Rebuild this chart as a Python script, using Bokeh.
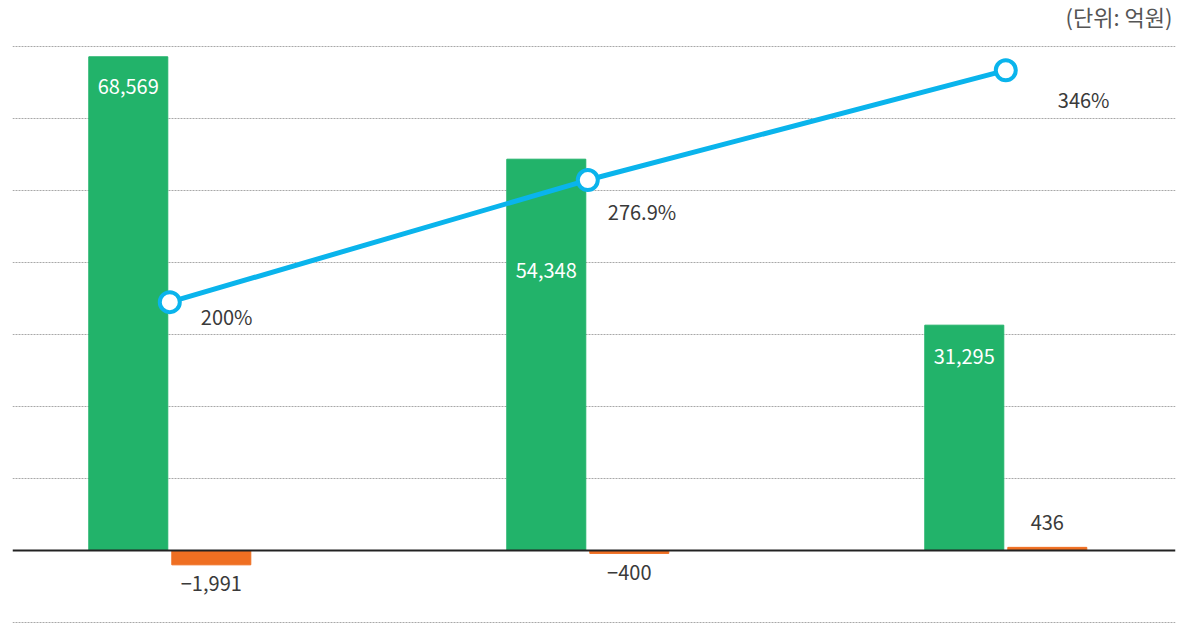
from bokeh.plotting import figure
from bokeh.models import Range1d, Span, ColumnDataSource
from bokeh.core.properties import value
from bokeh.embed import file_html
from bokeh.resources import INLINE

# ---- data ----
groups = ["1", "2", "3"]
green_vals = [68569, 54348, 31295]
orange_vals = [-1991, -400, 436]
ratio_vals = [200.0, 276.9, 346.0]
green_labels = ["68,569", "54,348", "31,295"]
orange_labels = ["\u22121,991", "\u2212400", "436"]
ratio_labels = ["200%", "276.9%", "346%"]
grid_ticks = [-10000, 10000, 20000, 30000, 40000, 50000, 60000, 70000]
unit_text = "(단위: 억원)"

GREEN = "#22B36A"
ORANGE = "#EF6F22"
CYAN = "#0AB4EC"
FONT = "Noto Sans CJK KR"

W, H = 1200, 630
p = figure(width=W, height=H, output_backend="svg", toolbar_location=None,
           x_range=Range1d(-0.3763, 2.406), y_range=Range1d(-11111, 76389),
           min_border_left=12, min_border_right=25, min_border_top=0, min_border_bottom=0)
p.xaxis.visible = False
p.yaxis.visible = False
p.xgrid.visible = False
p.ygrid.visible = False
p.outline_line_color = None
p.background_fill_color = "white"
p.extra_y_ranges = {"ratio": Range1d(-6.8, 389.97)}

for t in grid_ticks:
    p.add_layout(Span(location=t, dimension="width", line_color="#A8A8A8",
                      line_width=1, line_dash="2 1", level="underlay"))

idx = list(range(len(groups)))
off = 0.0993
bw = 0.189
src = ColumnDataSource(dict(
    xg=[i - off for i in idx], xo=[i + off for i in idx], xl=idx,
    g=green_vals, o=orange_vals, r=ratio_vals,
    gl=green_labels, ol=orange_labels, rl=ratio_labels,
    g_off=[30, 111, 31],
    o_off=[33, 22, -28],
    r_xoff=[31, 20, 52],
    r_yoff=[14, 31, 29],
))
p.vbar(x="xg", top="g", bottom=0, width=bw, color=GREEN, source=src)
p.vbar(x="xo", top="o", bottom=0, width=bw, color=ORANGE, source=src)

p.add_layout(Span(location=0, dimension="width", line_color="#222222", line_width=2))

p.line(x="xl", y="r", y_range_name="ratio", line_color=CYAN, line_width=5, source=src)
p.scatter(x="xl", y="r", y_range_name="ratio", size=20, fill_color="white",
          line_color=CYAN, line_width=4, source=src)

p.text(x="xg", y="g", text="gl", y_offset="g_off", source=src, text_color="white",
       text_font=value(FONT), text_font_size="20px", text_align="center",
       text_baseline="middle")
p.text(x="xo", y=0, text="ol", y_offset="o_off", source=src, text_color="#3a3a3a",
       text_font=value(FONT), text_font_size="20px", text_align="center",
       text_baseline="middle")
p.text(x="xl", y="r", y_range_name="ratio", text="rl", x_offset="r_xoff",
       y_offset="r_yoff", source=src, text_color="#3a3a3a", text_font=value(FONT),
       text_font_size="20px", text_align="left", text_baseline="middle")

unit_src = ColumnDataSource(dict(x=[2.406], y=[p.y_range.end], t=[unit_text]))
p.text(x="x", y="y", text="t", source=unit_src, x_offset=-3, y_offset=15,
       text_align="right", text_baseline="middle", text_color="#555555",
       text_font=value(FONT), text_font_size="22px")

open("out.html", "w").write(file_html(p, INLINE))
